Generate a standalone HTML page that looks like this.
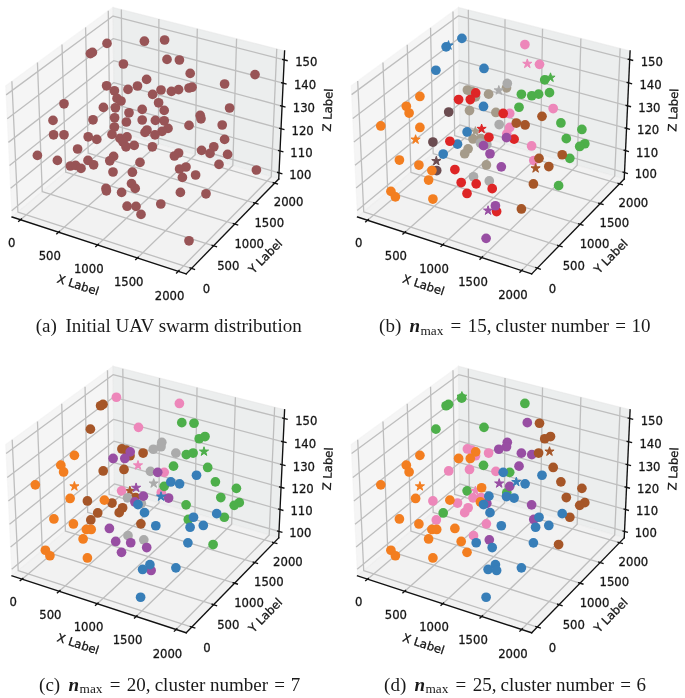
<!DOCTYPE html>
<html lang="en"><head><meta charset="utf-8"><title>UAV swarm clustering</title>
<style>html,body{margin:0;padding:0;background:#fff}svg{display:block}text{font-family:'DejaVu Sans', sans-serif;font-size:11.65px;fill:#141414;stroke:#141414;stroke-width:.28px}.cap{font-family:"Liberation Serif",serif;font-size:19px;fill:#1a1a1a;stroke:none}</style></head><body>
<svg width="685" height="698" viewBox="0 0 685 698">
<rect width="685" height="698" fill="#fff"/>
<g id="panel-a">
<path d="M12.01 217.01 L114.41 131.17 L112.99 7.38 L5.69 85.69Z" fill="#F5F5F5" stroke="#f2f2f2" stroke-opacity="0.5" stroke-width="1.17"/>
<path d="M114.41 131.17 L278.73 178.94 L284.6 50.88 L112.99 7.38Z" fill="#ECEEEE" stroke="#e6e6e6" stroke-opacity="0.5" stroke-width="1.17"/>
<path d="M12.01 217.01 L186.2 273.9 L278.73 178.94 L114.41 131.17Z" fill="#F2F2F2" stroke="#ececec" stroke-opacity="0.5" stroke-width="1.17"/>
<path d="M20.48 219.78 L122.44 133.51 L121.36 9.5" fill="none" stroke="#bebebe" stroke-width="1.3" stroke-linejoin="round"/>
<path d="M58.53 232.2 L158.44 143.97 L158.89 19.02" fill="none" stroke="#bebebe" stroke-width="1.3" stroke-linejoin="round"/>
<path d="M97.48 244.93 L195.22 154.66 L197.29 28.75" fill="none" stroke="#bebebe" stroke-width="1.3" stroke-linejoin="round"/>
<path d="M137.37 257.95 L232.82 165.59 L236.57 38.71" fill="none" stroke="#bebebe" stroke-width="1.3" stroke-linejoin="round"/>
<path d="M178.24 271.3 L271.25 176.76 L276.77 48.9" fill="none" stroke="#bebebe" stroke-width="1.3" stroke-linejoin="round"/>
<path d="M11.88 81.17 L17.9 212.08 L191.54 268.42" fill="none" stroke="#bebebe" stroke-width="1.3" stroke-linejoin="round"/>
<path d="M37.45 62.51 L42.24 191.67 L213.6 245.78" fill="none" stroke="#bebebe" stroke-width="1.3" stroke-linejoin="round"/>
<path d="M62 44.59 L65.66 172.04 L234.78 224.05" fill="none" stroke="#bebebe" stroke-width="1.3" stroke-linejoin="round"/>
<path d="M85.59 27.38 L88.19 153.16 L255.11 203.17" fill="none" stroke="#bebebe" stroke-width="1.3" stroke-linejoin="round"/>
<path d="M108.27 10.83 L109.89 134.96 L274.67 183.11" fill="none" stroke="#bebebe" stroke-width="1.3" stroke-linejoin="round"/>
<path d="M279.01 172.86 L114.34 125.29 L11.71 210.79" fill="none" stroke="#bebebe" stroke-width="1.3" stroke-linejoin="round"/>
<path d="M280.01 150.95 L114.1 104.07 L10.63 188.35" fill="none" stroke="#bebebe" stroke-width="1.3" stroke-linejoin="round"/>
<path d="M281.03 128.7 L113.85 82.55 L9.53 165.54" fill="none" stroke="#bebebe" stroke-width="1.3" stroke-linejoin="round"/>
<path d="M282.07 106.1 L113.6 60.7 L8.41 142.37" fill="none" stroke="#bebebe" stroke-width="1.3" stroke-linejoin="round"/>
<path d="M283.12 83.15 L113.35 38.53 L7.28 118.82" fill="none" stroke="#bebebe" stroke-width="1.3" stroke-linejoin="round"/>
<path d="M284.19 59.84 L113.09 16.02 L6.13 94.89" fill="none" stroke="#bebebe" stroke-width="1.3" stroke-linejoin="round"/>
<path d="M12.01 217.01 L186.2 273.9" fill="none" stroke="#111" stroke-width="1.35" stroke-linecap="square"/>
<path d="M21.37 219.03 L18.7 221.29" fill="none" stroke="#111" stroke-width="1.35" stroke-linecap="square"/>
<text x="11.71" y="246.93" text-anchor="middle">0</text>
<path d="M59.4 231.43 L56.78 233.75" fill="none" stroke="#111" stroke-width="1.35" stroke-linecap="square"/>
<text x="49.79" y="259.61" text-anchor="middle">500</text>
<path d="M98.33 244.14 L95.77 246.5" fill="none" stroke="#111" stroke-width="1.35" stroke-linecap="square"/>
<text x="88.78" y="272.61" text-anchor="middle">1000</text>
<path d="M138.2 257.15 L135.7 259.57" fill="none" stroke="#111" stroke-width="1.35" stroke-linecap="square"/>
<text x="128.72" y="285.91" text-anchor="middle">1500</text>
<path d="M179.05 270.47 L176.61 272.96" fill="none" stroke="#111" stroke-width="1.35" stroke-linecap="square"/>
<text x="169.64" y="299.55" text-anchor="middle">2000</text>
<text x="76.82" y="288.86" text-anchor="middle" transform="rotate(-341.91 76.82 288.86)">X Label</text>
<path d="M278.73 178.94 L186.2 273.9" fill="none" stroke="#111" stroke-width="1.35" stroke-linecap="square"/>
<path d="M190.08 267.94 L194.47 269.37" fill="none" stroke="#111" stroke-width="1.35" stroke-linecap="square"/>
<text x="206.56" y="292.93" text-anchor="middle">0</text>
<path d="M212.16 245.32 L216.49 246.69" fill="none" stroke="#111" stroke-width="1.35" stroke-linecap="square"/>
<text x="228.33" y="269.95" text-anchor="middle">500</text>
<path d="M233.35 223.61 L237.62 224.92" fill="none" stroke="#111" stroke-width="1.35" stroke-linecap="square"/>
<text x="249.22" y="247.9" text-anchor="middle">1000</text>
<path d="M253.71 202.75 L257.92 204.02" fill="none" stroke="#111" stroke-width="1.35" stroke-linecap="square"/>
<text x="269.28" y="226.72" text-anchor="middle">1500</text>
<path d="M273.28 182.71 L277.44 183.92" fill="none" stroke="#111" stroke-width="1.35" stroke-linecap="square"/>
<text x="288.57" y="206.36" text-anchor="middle">2000</text>
<text x="268.27" y="259.18" text-anchor="middle" transform="rotate(-45.74 268.27 259.18)">Y Label</text>
<path d="M278.73 178.94 L284.6 50.88" fill="none" stroke="#111" stroke-width="1.35" stroke-linecap="square"/>
<path d="M277.63 172.46 L281.78 173.66" fill="none" stroke="#111" stroke-width="1.35" stroke-linecap="square"/>
<text x="300.32" y="178.69" text-anchor="middle">100</text>
<path d="M278.62 150.55 L282.8 151.74" fill="none" stroke="#111" stroke-width="1.35" stroke-linecap="square"/>
<text x="301.48" y="156.82" text-anchor="middle">110</text>
<path d="M279.63 128.31 L283.85 129.47" fill="none" stroke="#111" stroke-width="1.35" stroke-linecap="square"/>
<text x="302.66" y="134.62" text-anchor="middle">120</text>
<path d="M280.65 105.72 L284.9 106.86" fill="none" stroke="#111" stroke-width="1.35" stroke-linecap="square"/>
<text x="303.86" y="112.07" text-anchor="middle">130</text>
<path d="M281.69 82.77 L285.98 83.9" fill="none" stroke="#111" stroke-width="1.35" stroke-linecap="square"/>
<text x="305.08" y="89.16" text-anchor="middle">140</text>
<path d="M282.75 59.47 L287.07 60.57" fill="none" stroke="#111" stroke-width="1.35" stroke-linecap="square"/>
<text x="306.32" y="65.9" text-anchor="middle">150</text>
<text x="331.86" y="110.16" text-anchor="middle" transform="rotate(-87.38 331.86 110.16)">Z Label</text>
<g fill="#985456">
<circle cx="107" cy="43.4" r="4.85"/>
<circle cx="92.4" cy="52.4" r="4.85"/>
<circle cx="90.4" cy="53.6" r="4.85"/>
<circle cx="123.4" cy="64" r="4.85"/>
<circle cx="106.6" cy="85.8" r="4.85"/>
<circle cx="114.4" cy="90.8" r="4.85"/>
<circle cx="128" cy="89.4" r="4.85"/>
<circle cx="137.5" cy="86" r="4.85"/>
<circle cx="117" cy="98.4" r="4.85"/>
<circle cx="121" cy="101" r="4.85"/>
<circle cx="64" cy="103.8" r="4.85"/>
<circle cx="103.4" cy="107.4" r="4.85"/>
<circle cx="115.4" cy="107.8" r="4.85"/>
<circle cx="129" cy="112.8" r="4.85"/>
<circle cx="53" cy="120.4" r="4.85"/>
<circle cx="93" cy="119.8" r="4.85"/>
<circle cx="114.6" cy="117.8" r="4.85"/>
<circle cx="126.4" cy="122" r="4.85"/>
<circle cx="114.4" cy="127" r="4.85"/>
<circle cx="144.4" cy="41.2" r="4.85"/>
<circle cx="164.6" cy="40" r="4.85"/>
<circle cx="167" cy="59.4" r="4.85"/>
<circle cx="179.4" cy="60" r="4.85"/>
<circle cx="190.2" cy="73.4" r="4.85"/>
<circle cx="146.6" cy="79.4" r="4.85"/>
<circle cx="255" cy="74.6" r="4.85"/>
<circle cx="224.6" cy="84" r="4.85"/>
<circle cx="161" cy="90" r="4.85"/>
<circle cx="171.4" cy="91.4" r="4.85"/>
<circle cx="178.6" cy="89.6" r="4.85"/>
<circle cx="189" cy="88" r="4.85"/>
<circle cx="192" cy="87.2" r="4.85"/>
<circle cx="152.6" cy="94.4" r="4.85"/>
<circle cx="158.6" cy="102.8" r="4.85"/>
<circle cx="142.2" cy="109.4" r="4.85"/>
<circle cx="164.2" cy="110.4" r="4.85"/>
<circle cx="229.6" cy="108" r="4.85"/>
<circle cx="200.2" cy="115.4" r="4.85"/>
<circle cx="201" cy="118.8" r="4.85"/>
<circle cx="142.2" cy="120" r="4.85"/>
<circle cx="155.4" cy="120.4" r="4.85"/>
<circle cx="164.2" cy="120.8" r="4.85"/>
<circle cx="189" cy="125.4" r="4.85"/>
<circle cx="222.2" cy="125" r="4.85"/>
<circle cx="147" cy="130" r="4.85"/>
<circle cx="168" cy="128.4" r="4.85"/>
<circle cx="162" cy="131.4" r="4.85"/>
<circle cx="155" cy="134.8" r="4.85"/>
<circle cx="145" cy="132.4" r="4.85"/>
<circle cx="53.6" cy="134.8" r="4.85"/>
<circle cx="64" cy="134.8" r="4.85"/>
<circle cx="88.2" cy="136.8" r="4.85"/>
<circle cx="96.8" cy="139.4" r="4.85"/>
<circle cx="112" cy="134.4" r="4.85"/>
<circle cx="120" cy="138.4" r="4.85"/>
<circle cx="127" cy="136.9" r="4.85"/>
<circle cx="123" cy="141.9" r="4.85"/>
<circle cx="126" cy="146.8" r="4.85"/>
<circle cx="134.2" cy="145.4" r="4.85"/>
<circle cx="77.6" cy="149" r="4.85"/>
<circle cx="37.4" cy="155.4" r="4.85"/>
<circle cx="57.4" cy="160.4" r="4.85"/>
<circle cx="113.6" cy="156.4" r="4.85"/>
<circle cx="109.8" cy="160.8" r="4.85"/>
<circle cx="88" cy="160.4" r="4.85"/>
<circle cx="93.6" cy="164.8" r="4.85"/>
<circle cx="70.4" cy="166" r="4.85"/>
<circle cx="75.6" cy="165.4" r="4.85"/>
<circle cx="81" cy="168.4" r="4.85"/>
<circle cx="113" cy="172" r="4.85"/>
<circle cx="132.4" cy="172.2" r="4.85"/>
<circle cx="140" cy="162.4" r="4.85"/>
<circle cx="106" cy="188.4" r="4.85"/>
<circle cx="106.4" cy="190.8" r="4.85"/>
<circle cx="121.6" cy="192.4" r="4.85"/>
<circle cx="131.5" cy="183.6" r="4.85"/>
<circle cx="135.2" cy="188.4" r="4.85"/>
<circle cx="127.1" cy="206.2" r="4.85"/>
<circle cx="136" cy="206.4" r="4.85"/>
<circle cx="141" cy="214.4" r="4.85"/>
<circle cx="152.4" cy="146.8" r="4.85"/>
<circle cx="224.6" cy="139.4" r="4.85"/>
<circle cx="213.8" cy="146.8" r="4.85"/>
<circle cx="201.6" cy="150.4" r="4.85"/>
<circle cx="210" cy="153.4" r="4.85"/>
<circle cx="227.6" cy="154.4" r="4.85"/>
<circle cx="178.6" cy="153" r="4.85"/>
<circle cx="174.4" cy="156" r="4.85"/>
<circle cx="219" cy="164.4" r="4.85"/>
<circle cx="186" cy="167" r="4.85"/>
<circle cx="179.6" cy="169" r="4.85"/>
<circle cx="195.6" cy="175" r="4.85"/>
<circle cx="182.4" cy="177.4" r="4.85"/>
<circle cx="180.4" cy="192.4" r="4.85"/>
<circle cx="206" cy="193.8" r="4.85"/>
<circle cx="160.8" cy="204" r="4.85"/>
<circle cx="189" cy="240.8" r="4.85"/>
<circle cx="256.4" cy="170" r="4.85"/>
</g></g>
<g id="panel-b">
<path d="M357.51 217.01 L459.91 131.17 L458.49 7.38 L351.19 85.69Z" fill="#F5F5F5" stroke="#f2f2f2" stroke-opacity="0.5" stroke-width="1.17"/>
<path d="M459.91 131.17 L624.23 178.94 L630.1 50.88 L458.49 7.38Z" fill="#ECEEEE" stroke="#e6e6e6" stroke-opacity="0.5" stroke-width="1.17"/>
<path d="M357.51 217.01 L531.7 273.9 L624.23 178.94 L459.91 131.17Z" fill="#F2F2F2" stroke="#ececec" stroke-opacity="0.5" stroke-width="1.17"/>
<path d="M367.48 220.27 L469.36 133.92 L468.33 9.88" fill="none" stroke="#bebebe" stroke-width="1.3" stroke-linejoin="round"/>
<path d="M404.66 232.41 L504.54 144.15 L505.02 19.18" fill="none" stroke="#bebebe" stroke-width="1.3" stroke-linejoin="round"/>
<path d="M442.72 244.84 L540.47 154.59 L542.53 28.69" fill="none" stroke="#bebebe" stroke-width="1.3" stroke-linejoin="round"/>
<path d="M481.67 257.56 L577.18 165.26 L580.89 38.41" fill="none" stroke="#bebebe" stroke-width="1.3" stroke-linejoin="round"/>
<path d="M521.55 270.59 L614.7 176.16 L620.12 48.35" fill="none" stroke="#bebebe" stroke-width="1.3" stroke-linejoin="round"/>
<path d="M357.7 80.93 L363.71 211.82 L537.32 268.13" fill="none" stroke="#bebebe" stroke-width="1.3" stroke-linejoin="round"/>
<path d="M382.97 62.5 L387.76 191.66 L559.12 245.76" fill="none" stroke="#bebebe" stroke-width="1.3" stroke-linejoin="round"/>
<path d="M407.23 44.79 L410.9 172.26 L580.04 224.29" fill="none" stroke="#bebebe" stroke-width="1.3" stroke-linejoin="round"/>
<path d="M430.56 27.77 L433.18 153.58 L600.16 203.65" fill="none" stroke="#bebebe" stroke-width="1.3" stroke-linejoin="round"/>
<path d="M452.99 11.39 L454.65 135.59 L619.5 183.8" fill="none" stroke="#bebebe" stroke-width="1.3" stroke-linejoin="round"/>
<path d="M624.53 172.54 L459.84 124.98 L357.19 210.46" fill="none" stroke="#bebebe" stroke-width="1.3" stroke-linejoin="round"/>
<path d="M625.53 150.64 L459.6 103.78 L356.11 188.03" fill="none" stroke="#bebebe" stroke-width="1.3" stroke-linejoin="round"/>
<path d="M626.55 128.41 L459.35 82.26 L355.02 165.24" fill="none" stroke="#bebebe" stroke-width="1.3" stroke-linejoin="round"/>
<path d="M627.58 105.82 L459.1 60.43 L353.9 142.09" fill="none" stroke="#bebebe" stroke-width="1.3" stroke-linejoin="round"/>
<path d="M628.63 82.89 L458.84 38.28 L352.77 118.56" fill="none" stroke="#bebebe" stroke-width="1.3" stroke-linejoin="round"/>
<path d="M629.7 59.59 L458.59 15.79 L351.62 94.64" fill="none" stroke="#bebebe" stroke-width="1.3" stroke-linejoin="round"/>
<path d="M357.51 217.01 L531.7 273.9" fill="none" stroke="#111" stroke-width="1.35" stroke-linecap="square"/>
<path d="M368.36 219.52 L365.7 221.77" fill="none" stroke="#111" stroke-width="1.35" stroke-linecap="square"/>
<text x="358.7" y="247.42" text-anchor="middle">0</text>
<path d="M405.53 231.64 L402.92 233.95" fill="none" stroke="#111" stroke-width="1.35" stroke-linecap="square"/>
<text x="395.93" y="259.83" text-anchor="middle">500</text>
<path d="M443.57 244.05 L441.01 246.42" fill="none" stroke="#111" stroke-width="1.35" stroke-linecap="square"/>
<text x="434.02" y="272.52" text-anchor="middle">1000</text>
<path d="M482.5 256.75 L479.99 259.18" fill="none" stroke="#111" stroke-width="1.35" stroke-linecap="square"/>
<text x="473.02" y="285.51" text-anchor="middle">1500</text>
<path d="M522.36 269.76 L519.91 272.24" fill="none" stroke="#111" stroke-width="1.35" stroke-linecap="square"/>
<text x="512.95" y="298.82" text-anchor="middle">2000</text>
<text x="422.32" y="288.86" text-anchor="middle" transform="rotate(-341.91 422.32 288.86)">X Label</text>
<path d="M624.23 178.94 L531.7 273.9" fill="none" stroke="#111" stroke-width="1.35" stroke-linecap="square"/>
<path d="M535.86 267.66 L540.25 269.08" fill="none" stroke="#111" stroke-width="1.35" stroke-linecap="square"/>
<text x="552.34" y="292.64" text-anchor="middle">0</text>
<path d="M557.67 245.31 L562 246.68" fill="none" stroke="#111" stroke-width="1.35" stroke-linecap="square"/>
<text x="573.84" y="269.94" text-anchor="middle">500</text>
<path d="M578.62 223.85 L582.89 225.16" fill="none" stroke="#111" stroke-width="1.35" stroke-linecap="square"/>
<text x="594.49" y="248.14" text-anchor="middle">1000</text>
<path d="M598.75 203.23 L602.97 204.49" fill="none" stroke="#111" stroke-width="1.35" stroke-linecap="square"/>
<text x="614.33" y="227.2" text-anchor="middle">1500</text>
<path d="M618.11 183.39 L622.27 184.61" fill="none" stroke="#111" stroke-width="1.35" stroke-linecap="square"/>
<text x="633.41" y="207.06" text-anchor="middle">2000</text>
<text x="613.77" y="259.18" text-anchor="middle" transform="rotate(-45.74 613.77 259.18)">Y Label</text>
<path d="M624.23 178.94 L630.1 50.88" fill="none" stroke="#111" stroke-width="1.35" stroke-linecap="square"/>
<path d="M623.14 172.14 L627.29 173.34" fill="none" stroke="#111" stroke-width="1.35" stroke-linecap="square"/>
<text x="645.84" y="178.37" text-anchor="middle">100</text>
<path d="M624.14 150.25 L628.32 151.43" fill="none" stroke="#111" stroke-width="1.35" stroke-linecap="square"/>
<text x="647" y="156.52" text-anchor="middle">110</text>
<path d="M625.14 128.02 L629.36 129.18" fill="none" stroke="#111" stroke-width="1.35" stroke-linecap="square"/>
<text x="648.18" y="134.32" text-anchor="middle">120</text>
<path d="M626.17 105.44 L630.42 106.59" fill="none" stroke="#111" stroke-width="1.35" stroke-linecap="square"/>
<text x="649.38" y="111.79" text-anchor="middle">130</text>
<path d="M627.2 82.52 L631.49 83.64" fill="none" stroke="#111" stroke-width="1.35" stroke-linecap="square"/>
<text x="650.59" y="88.9" text-anchor="middle">140</text>
<path d="M628.26 59.23 L632.58 60.33" fill="none" stroke="#111" stroke-width="1.35" stroke-linecap="square"/>
<text x="651.83" y="65.66" text-anchor="middle">150</text>
<text x="677.36" y="110.16" text-anchor="middle" transform="rotate(-87.38 677.36 110.16)">Z Label</text>
<circle cx="524.9" cy="44.55" r="4.85" fill="#ED87BA"/>
<circle cx="539.5" cy="64.35" r="4.85" fill="#ED87BA"/>
<circle cx="553.2" cy="108.55" r="4.85" fill="#ED87BA"/>
<circle cx="509.7" cy="113.45" r="4.85" fill="#ED87BA"/>
<circle cx="509.7" cy="127.45" r="4.85" fill="#ED87BA"/>
<circle cx="506.8" cy="133.85" r="4.85" fill="#ED87BA"/>
<circle cx="531.6" cy="145.95" r="4.85" fill="#ED87BA"/>
<circle cx="533.8" cy="160.55" r="4.85" fill="#ED87BA"/>
<circle cx="467.4" cy="90.05" r="4.85" fill="#A59B8A"/>
<circle cx="471.8" cy="91.25" r="4.85" fill="#A59B8A"/>
<circle cx="475.5" cy="96.85" r="4.85" fill="#A59B8A"/>
<circle cx="488.6" cy="94.15" r="4.85" fill="#A59B8A"/>
<circle cx="469.5" cy="110.55" r="4.85" fill="#A59B8A"/>
<circle cx="506.5" cy="87.85" r="4.85" fill="#A59B8A"/>
<circle cx="495.9" cy="112.45" r="4.85" fill="#A59B8A"/>
<circle cx="481" cy="138.65" r="4.85" fill="#A59B8A"/>
<circle cx="473" cy="138.95" r="4.85" fill="#A59B8A"/>
<circle cx="468.1" cy="148.85" r="4.85" fill="#A59B8A"/>
<circle cx="464.7" cy="153.75" r="4.85" fill="#A59B8A"/>
<circle cx="486.4" cy="164.95" r="4.85" fill="#A59B8A"/>
<polygon points="475.4,126.65 476.48,129.97 479.97,129.97 477.14,132.02 478.22,135.33 475.4,133.28 472.58,135.33 473.66,132.02 470.83,129.97 474.32,129.97" fill="#A59B8A" stroke="#A59B8A" stroke-width="1" stroke-linejoin="round"/>
<circle cx="461.9" cy="38.35" r="4.85" fill="#377EB8"/>
<circle cx="446.1" cy="46.85" r="4.85" fill="#377EB8"/>
<circle cx="435.9" cy="70.25" r="4.85" fill="#377EB8"/>
<circle cx="484" cy="68.45" r="4.85" fill="#377EB8"/>
<circle cx="483.5" cy="106.45" r="4.85" fill="#377EB8"/>
<circle cx="467.1" cy="131.95" r="4.85" fill="#377EB8"/>
<circle cx="457.5" cy="144.15" r="4.85" fill="#377EB8"/>
<circle cx="443.2" cy="154.05" r="4.85" fill="#377EB8"/>
<circle cx="544.7" cy="79.85" r="4.85" fill="#4DAF4A"/>
<circle cx="521.4" cy="94.25" r="4.85" fill="#4DAF4A"/>
<circle cx="531.8" cy="95.75" r="4.85" fill="#4DAF4A"/>
<circle cx="538.6" cy="94.15" r="4.85" fill="#4DAF4A"/>
<circle cx="549.5" cy="92.65" r="4.85" fill="#4DAF4A"/>
<circle cx="519" cy="107.25" r="4.85" fill="#4DAF4A"/>
<circle cx="560.9" cy="122.95" r="4.85" fill="#4DAF4A"/>
<circle cx="581.9" cy="129.45" r="4.85" fill="#4DAF4A"/>
<circle cx="566.3" cy="138.65" r="4.85" fill="#4DAF4A"/>
<circle cx="584.8" cy="143.75" r="4.85" fill="#4DAF4A"/>
<circle cx="579.7" cy="146.45" r="4.85" fill="#4DAF4A"/>
<circle cx="569.8" cy="158.35" r="4.85" fill="#4DAF4A"/>
<circle cx="558.6" cy="185.65" r="4.85" fill="#4DAF4A"/>
<circle cx="507.3" cy="83.45" r="4.85" fill="#ABABAB"/>
<circle cx="499.2" cy="124.55" r="4.85" fill="#ABABAB"/>
<circle cx="480.4" cy="143.05" r="4.85" fill="#ABABAB"/>
<circle cx="486.8" cy="144.45" r="4.85" fill="#ABABAB"/>
<circle cx="473.5" cy="176.75" r="4.85" fill="#ABABAB"/>
<circle cx="489.3" cy="180.95" r="4.85" fill="#ABABAB"/>
<circle cx="448.7" cy="112.05" r="4.85" fill="#6B4C50"/>
<circle cx="432.9" cy="142.05" r="4.85" fill="#6B4C50"/>
<circle cx="436.7" cy="170.55" r="4.85" fill="#6B4C50"/>
<circle cx="475.7" cy="92.95" r="4.85" fill="#DE2526"/>
<circle cx="458.6" cy="99.55" r="4.85" fill="#DE2526"/>
<circle cx="470.3" cy="99.55" r="4.85" fill="#DE2526"/>
<circle cx="503.2" cy="113.45" r="4.85" fill="#DE2526"/>
<circle cx="514.1" cy="139.15" r="4.85" fill="#DE2526"/>
<circle cx="488.9" cy="137.25" r="4.85" fill="#DE2526"/>
<circle cx="449.9" cy="141.25" r="4.85" fill="#DE2526"/>
<circle cx="454.9" cy="169.55" r="4.85" fill="#DE2526"/>
<circle cx="461.2" cy="182.55" r="4.85" fill="#DE2526"/>
<circle cx="467" cy="193.45" r="4.85" fill="#DE2526"/>
<circle cx="476.2" cy="183.85" r="4.85" fill="#DE2526"/>
<circle cx="492.2" cy="188.65" r="4.85" fill="#DE2526"/>
<circle cx="496.6" cy="211.55" r="4.85" fill="#DE2526"/>
<circle cx="542" cy="116.35" r="4.85" fill="#A65628"/>
<circle cx="516.3" cy="123.05" r="4.85" fill="#A65628"/>
<circle cx="525.1" cy="124.95" r="4.85" fill="#A65628"/>
<circle cx="539" cy="158.35" r="4.85" fill="#A65628"/>
<circle cx="548.8" cy="166.55" r="4.85" fill="#A65628"/>
<circle cx="533.4" cy="183.95" r="4.85" fill="#A65628"/>
<circle cx="562.2" cy="154.75" r="4.85" fill="#A65628"/>
<circle cx="521.4" cy="208.95" r="4.85" fill="#A65628"/>
<circle cx="419.9" cy="96.45" r="4.85" fill="#F37E20"/>
<circle cx="406.3" cy="106.25" r="4.85" fill="#F37E20"/>
<circle cx="409.1" cy="113.05" r="4.85" fill="#F37E20"/>
<circle cx="380.8" cy="125.95" r="4.85" fill="#F37E20"/>
<circle cx="419.9" cy="127.45" r="4.85" fill="#F37E20"/>
<circle cx="399.4" cy="160.05" r="4.85" fill="#F37E20"/>
<circle cx="418.9" cy="165.05" r="4.85" fill="#F37E20"/>
<circle cx="431.9" cy="170.55" r="4.85" fill="#F37E20"/>
<circle cx="428.6" cy="180.05" r="4.85" fill="#F37E20"/>
<circle cx="390.9" cy="191.35" r="4.85" fill="#F37E20"/>
<circle cx="395.4" cy="196.85" r="4.85" fill="#F37E20"/>
<circle cx="432.9" cy="199.05" r="4.85" fill="#F37E20"/>
<circle cx="506.5" cy="137.65" r="4.85" fill="#984EA3"/>
<circle cx="483.5" cy="145.65" r="4.85" fill="#984EA3"/>
<circle cx="490" cy="153.75" r="4.85" fill="#984EA3"/>
<circle cx="501.3" cy="166.85" r="4.85" fill="#984EA3"/>
<circle cx="495.4" cy="205.75" r="4.85" fill="#984EA3"/>
<circle cx="486.1" cy="238.35" r="4.85" fill="#984EA3"/>
<polygon points="448.5,40.65 449.58,43.97 453.07,43.97 450.24,46.02 451.32,49.33 448.5,47.28 445.68,49.33 446.76,46.02 443.93,43.97 447.42,43.97" fill="#377EB8" stroke="#377EB8" stroke-width="1" stroke-linejoin="round"/>
<polygon points="527.3,58.95 528.38,62.27 531.87,62.27 529.04,64.32 530.12,67.63 527.3,65.58 524.48,67.63 525.56,64.32 522.73,62.27 526.22,62.27" fill="#ED87BA" stroke="#ED87BA" stroke-width="1" stroke-linejoin="round"/>
<polygon points="550.5,72.85 551.58,76.17 555.07,76.17 552.24,78.22 553.32,81.53 550.5,79.48 547.68,81.53 548.76,78.22 545.93,76.17 549.42,76.17" fill="#4DAF4A" stroke="#4DAF4A" stroke-width="1" stroke-linejoin="round"/>
<polygon points="498.8,85.55 499.88,88.87 503.37,88.87 500.54,90.92 501.62,94.23 498.8,92.18 495.98,94.23 497.06,90.92 494.23,88.87 497.72,88.87" fill="#ABABAB" stroke="#ABABAB" stroke-width="1" stroke-linejoin="round"/>
<polygon points="481.6,124.05 482.68,127.37 486.17,127.37 483.34,129.42 484.42,132.73 481.6,130.68 478.78,132.73 479.86,129.42 477.03,127.37 480.52,127.37" fill="#DE2526" stroke="#DE2526" stroke-width="1" stroke-linejoin="round"/>
<polygon points="415.6,134.75 416.68,138.07 420.17,138.07 417.34,140.12 418.42,143.43 415.6,141.38 412.78,143.43 413.86,140.12 411.03,138.07 414.52,138.07" fill="#F37E20" stroke="#F37E20" stroke-width="1" stroke-linejoin="round"/>
<polygon points="436.3,156.25 437.38,159.57 440.87,159.57 438.04,161.62 439.12,164.93 436.3,162.88 433.48,164.93 434.56,161.62 431.73,159.57 435.22,159.57" fill="#6B4C50" stroke="#6B4C50" stroke-width="1" stroke-linejoin="round"/>
<polygon points="535.6,163.55 536.68,166.87 540.17,166.87 537.34,168.92 538.42,172.23 535.6,170.18 532.78,172.23 533.86,168.92 531.03,166.87 534.52,166.87" fill="#A65628" stroke="#A65628" stroke-width="1" stroke-linejoin="round"/>
<polygon points="488.1,205.75 489.18,209.07 492.67,209.07 489.84,211.12 490.92,214.43 488.1,212.38 485.28,214.43 486.36,211.12 483.53,209.07 487.02,209.07" fill="#984EA3" stroke="#984EA3" stroke-width="1" stroke-linejoin="round"/>
</g>
<g id="panel-c">
<path d="M12.01 575.91 L114.41 490.07 L112.99 366.28 L5.69 444.59Z" fill="#F5F5F5" stroke="#f2f2f2" stroke-opacity="0.5" stroke-width="1.17"/>
<path d="M114.41 490.07 L278.73 537.84 L284.6 409.78 L112.99 366.28Z" fill="#ECEEEE" stroke="#e6e6e6" stroke-opacity="0.5" stroke-width="1.17"/>
<path d="M12.01 575.91 L186.2 632.8 L278.73 537.84 L114.41 490.07Z" fill="#F2F2F2" stroke="#ececec" stroke-opacity="0.5" stroke-width="1.17"/>
<path d="M21.98 579.17 L123.86 492.82 L122.83 368.78" fill="none" stroke="#bebebe" stroke-width="1.3" stroke-linejoin="round"/>
<path d="M59.16 591.31 L159.04 503.05 L159.52 378.08" fill="none" stroke="#bebebe" stroke-width="1.3" stroke-linejoin="round"/>
<path d="M97.22 603.74 L194.97 513.49 L197.03 387.59" fill="none" stroke="#bebebe" stroke-width="1.3" stroke-linejoin="round"/>
<path d="M136.17 616.46 L231.68 524.16 L235.39 397.31" fill="none" stroke="#bebebe" stroke-width="1.3" stroke-linejoin="round"/>
<path d="M176.05 629.49 L269.2 535.06 L274.62 407.25" fill="none" stroke="#bebebe" stroke-width="1.3" stroke-linejoin="round"/>
<path d="M12.2 439.83 L18.21 570.72 L191.82 627.03" fill="none" stroke="#bebebe" stroke-width="1.3" stroke-linejoin="round"/>
<path d="M37.47 421.4 L42.26 550.56 L213.62 604.66" fill="none" stroke="#bebebe" stroke-width="1.3" stroke-linejoin="round"/>
<path d="M61.73 403.69 L65.4 531.16 L234.54 583.19" fill="none" stroke="#bebebe" stroke-width="1.3" stroke-linejoin="round"/>
<path d="M85.06 386.67 L87.68 512.48 L254.66 562.55" fill="none" stroke="#bebebe" stroke-width="1.3" stroke-linejoin="round"/>
<path d="M107.49 370.29 L109.15 494.49 L274 542.7" fill="none" stroke="#bebebe" stroke-width="1.3" stroke-linejoin="round"/>
<path d="M279.03 531.44 L114.34 483.88 L11.69 569.36" fill="none" stroke="#bebebe" stroke-width="1.3" stroke-linejoin="round"/>
<path d="M280.03 509.54 L114.1 462.68 L10.61 546.93" fill="none" stroke="#bebebe" stroke-width="1.3" stroke-linejoin="round"/>
<path d="M281.05 487.31 L113.85 441.16 L9.52 524.14" fill="none" stroke="#bebebe" stroke-width="1.3" stroke-linejoin="round"/>
<path d="M282.08 464.72 L113.6 419.33 L8.4 500.99" fill="none" stroke="#bebebe" stroke-width="1.3" stroke-linejoin="round"/>
<path d="M283.13 441.79 L113.34 397.18 L7.27 477.46" fill="none" stroke="#bebebe" stroke-width="1.3" stroke-linejoin="round"/>
<path d="M284.2 418.49 L113.09 374.69 L6.12 453.54" fill="none" stroke="#bebebe" stroke-width="1.3" stroke-linejoin="round"/>
<path d="M12.01 575.91 L186.2 632.8" fill="none" stroke="#111" stroke-width="1.35" stroke-linecap="square"/>
<path d="M22.86 578.42 L20.2 580.67" fill="none" stroke="#111" stroke-width="1.35" stroke-linecap="square"/>
<text x="13.2" y="606.32" text-anchor="middle">0</text>
<path d="M60.03 590.54 L57.42 592.85" fill="none" stroke="#111" stroke-width="1.35" stroke-linecap="square"/>
<text x="50.43" y="618.73" text-anchor="middle">500</text>
<path d="M98.07 602.95 L95.51 605.32" fill="none" stroke="#111" stroke-width="1.35" stroke-linecap="square"/>
<text x="88.52" y="631.42" text-anchor="middle">1000</text>
<path d="M137 615.65 L134.49 618.08" fill="none" stroke="#111" stroke-width="1.35" stroke-linecap="square"/>
<text x="127.52" y="644.41" text-anchor="middle">1500</text>
<path d="M176.86 628.66 L174.41 631.14" fill="none" stroke="#111" stroke-width="1.35" stroke-linecap="square"/>
<text x="167.45" y="657.72" text-anchor="middle">2000</text>
<text x="76.82" y="647.76" text-anchor="middle" transform="rotate(-341.91 76.82 647.76)">X Label</text>
<path d="M278.73 537.84 L186.2 632.8" fill="none" stroke="#111" stroke-width="1.35" stroke-linecap="square"/>
<path d="M190.36 626.56 L194.75 627.98" fill="none" stroke="#111" stroke-width="1.35" stroke-linecap="square"/>
<text x="206.84" y="651.54" text-anchor="middle">0</text>
<path d="M212.17 604.21 L216.5 605.58" fill="none" stroke="#111" stroke-width="1.35" stroke-linecap="square"/>
<text x="228.34" y="628.84" text-anchor="middle">500</text>
<path d="M233.12 582.75 L237.39 584.06" fill="none" stroke="#111" stroke-width="1.35" stroke-linecap="square"/>
<text x="248.99" y="607.04" text-anchor="middle">1000</text>
<path d="M253.25 562.13 L257.47 563.39" fill="none" stroke="#111" stroke-width="1.35" stroke-linecap="square"/>
<text x="268.83" y="586.1" text-anchor="middle">1500</text>
<path d="M272.61 542.29 L276.77 543.51" fill="none" stroke="#111" stroke-width="1.35" stroke-linecap="square"/>
<text x="287.91" y="565.96" text-anchor="middle">2000</text>
<text x="268.27" y="618.08" text-anchor="middle" transform="rotate(-45.74 268.27 618.08)">Y Label</text>
<path d="M278.73 537.84 L284.6 409.78" fill="none" stroke="#111" stroke-width="1.35" stroke-linecap="square"/>
<path d="M277.64 531.04 L281.79 532.24" fill="none" stroke="#111" stroke-width="1.35" stroke-linecap="square"/>
<text x="300.34" y="537.27" text-anchor="middle">100</text>
<path d="M278.64 509.15 L282.82 510.33" fill="none" stroke="#111" stroke-width="1.35" stroke-linecap="square"/>
<text x="301.5" y="515.42" text-anchor="middle">110</text>
<path d="M279.64 486.92 L283.86 488.08" fill="none" stroke="#111" stroke-width="1.35" stroke-linecap="square"/>
<text x="302.68" y="493.22" text-anchor="middle">120</text>
<path d="M280.67 464.34 L284.92 465.49" fill="none" stroke="#111" stroke-width="1.35" stroke-linecap="square"/>
<text x="303.88" y="470.69" text-anchor="middle">130</text>
<path d="M281.7 441.42 L285.99 442.54" fill="none" stroke="#111" stroke-width="1.35" stroke-linecap="square"/>
<text x="305.09" y="447.8" text-anchor="middle">140</text>
<path d="M282.76 418.13 L287.08 419.23" fill="none" stroke="#111" stroke-width="1.35" stroke-linecap="square"/>
<text x="306.33" y="424.56" text-anchor="middle">150</text>
<text x="331.86" y="469.06" text-anchor="middle" transform="rotate(-87.38 331.86 469.06)">Z Label</text>
<circle cx="103" cy="404.35" r="4.85" fill="#A65628"/>
<circle cx="100.6" cy="405.75" r="4.85" fill="#A65628"/>
<circle cx="90.4" cy="429.15" r="4.85" fill="#A65628"/>
<circle cx="121.9" cy="448.95" r="4.85" fill="#A65628"/>
<circle cx="126.3" cy="450.15" r="4.85" fill="#A65628"/>
<circle cx="130" cy="455.75" r="4.85" fill="#A65628"/>
<circle cx="143.1" cy="453.05" r="4.85" fill="#A65628"/>
<circle cx="103.2" cy="470.95" r="4.85" fill="#A65628"/>
<circle cx="124" cy="469.45" r="4.85" fill="#A65628"/>
<circle cx="135.5" cy="497.55" r="4.85" fill="#A65628"/>
<circle cx="87.4" cy="500.95" r="4.85" fill="#A65628"/>
<circle cx="112" cy="503.05" r="4.85" fill="#A65628"/>
<circle cx="122.6" cy="507.75" r="4.85" fill="#A65628"/>
<circle cx="119.2" cy="512.65" r="4.85" fill="#A65628"/>
<circle cx="97.7" cy="512.95" r="4.85" fill="#A65628"/>
<circle cx="90.8" cy="519.95" r="4.85" fill="#A65628"/>
<circle cx="140.9" cy="523.85" r="4.85" fill="#A65628"/>
<polygon points="129.9,486.15 130.98,489.47 134.47,489.47 131.64,491.52 132.72,494.83 129.9,492.78 127.08,494.83 128.16,491.52 125.33,489.47 128.82,489.47" fill="#A65628" stroke="#A65628" stroke-width="1" stroke-linejoin="round"/>
<circle cx="116.4" cy="397.25" r="4.85" fill="#ED87BA"/>
<circle cx="138.5" cy="427.35" r="4.85" fill="#ED87BA"/>
<circle cx="179.4" cy="403.45" r="4.85" fill="#ED87BA"/>
<circle cx="164.2" cy="472.35" r="4.85" fill="#ED87BA"/>
<circle cx="121.6" cy="490.85" r="4.85" fill="#ED87BA"/>
<circle cx="161.3" cy="492.75" r="4.85" fill="#ED87BA"/>
<circle cx="161.8" cy="442.35" r="4.85" fill="#ABABAB"/>
<circle cx="161" cy="446.75" r="4.85" fill="#ABABAB"/>
<circle cx="153.3" cy="449.25" r="4.85" fill="#ABABAB"/>
<circle cx="175.9" cy="453.15" r="4.85" fill="#ABABAB"/>
<circle cx="150.4" cy="471.35" r="4.85" fill="#ABABAB"/>
<circle cx="127.5" cy="497.85" r="4.85" fill="#ABABAB"/>
<circle cx="141.3" cy="503.35" r="4.85" fill="#ABABAB"/>
<circle cx="128" cy="535.65" r="4.85" fill="#ABABAB"/>
<circle cx="143.8" cy="539.85" r="4.85" fill="#ABABAB"/>
<circle cx="181.8" cy="422.65" r="4.85" fill="#4DAF4A"/>
<circle cx="194" cy="423.25" r="4.85" fill="#4DAF4A"/>
<circle cx="199.2" cy="438.75" r="4.85" fill="#4DAF4A"/>
<circle cx="205" cy="436.55" r="4.85" fill="#4DAF4A"/>
<circle cx="186.3" cy="454.65" r="4.85" fill="#4DAF4A"/>
<circle cx="193.1" cy="453.05" r="4.85" fill="#4DAF4A"/>
<circle cx="173.5" cy="466.15" r="4.85" fill="#4DAF4A"/>
<circle cx="207.7" cy="467.45" r="4.85" fill="#4DAF4A"/>
<circle cx="215.4" cy="481.85" r="4.85" fill="#4DAF4A"/>
<circle cx="164.2" cy="486.35" r="4.85" fill="#4DAF4A"/>
<circle cx="186.1" cy="504.85" r="4.85" fill="#4DAF4A"/>
<circle cx="188.3" cy="519.45" r="4.85" fill="#4DAF4A"/>
<circle cx="236.4" cy="488.35" r="4.85" fill="#4DAF4A"/>
<circle cx="220.8" cy="497.55" r="4.85" fill="#4DAF4A"/>
<circle cx="239.3" cy="502.65" r="4.85" fill="#4DAF4A"/>
<circle cx="234.2" cy="505.35" r="4.85" fill="#4DAF4A"/>
<circle cx="224.3" cy="517.25" r="4.85" fill="#4DAF4A"/>
<circle cx="213.1" cy="544.55" r="4.85" fill="#4DAF4A"/>
<circle cx="74.4" cy="455.35" r="4.85" fill="#F37E20"/>
<circle cx="60.8" cy="465.15" r="4.85" fill="#F37E20"/>
<circle cx="63.6" cy="471.95" r="4.85" fill="#F37E20"/>
<circle cx="35.3" cy="484.85" r="4.85" fill="#F37E20"/>
<circle cx="70.1" cy="498.45" r="4.85" fill="#F37E20"/>
<circle cx="104.4" cy="500.15" r="4.85" fill="#F37E20"/>
<circle cx="53.9" cy="518.95" r="4.85" fill="#F37E20"/>
<circle cx="73.4" cy="523.95" r="4.85" fill="#F37E20"/>
<circle cx="86.4" cy="529.45" r="4.85" fill="#F37E20"/>
<circle cx="91.2" cy="529.45" r="4.85" fill="#F37E20"/>
<circle cx="83.1" cy="538.95" r="4.85" fill="#F37E20"/>
<circle cx="45.4" cy="550.25" r="4.85" fill="#F37E20"/>
<circle cx="49.9" cy="555.75" r="4.85" fill="#F37E20"/>
<circle cx="87.4" cy="557.95" r="4.85" fill="#F37E20"/>
<circle cx="130.2" cy="451.85" r="4.85" fill="#984EA3"/>
<circle cx="113.1" cy="458.45" r="4.85" fill="#984EA3"/>
<circle cx="124.8" cy="458.45" r="4.85" fill="#984EA3"/>
<circle cx="157.7" cy="472.35" r="4.85" fill="#984EA3"/>
<circle cx="168.6" cy="498.05" r="4.85" fill="#984EA3"/>
<circle cx="143.4" cy="496.15" r="4.85" fill="#984EA3"/>
<circle cx="134.9" cy="501.95" r="4.85" fill="#984EA3"/>
<circle cx="109.4" cy="528.45" r="4.85" fill="#984EA3"/>
<circle cx="115.7" cy="541.45" r="4.85" fill="#984EA3"/>
<circle cx="121.5" cy="552.35" r="4.85" fill="#984EA3"/>
<circle cx="130.7" cy="542.75" r="4.85" fill="#984EA3"/>
<circle cx="146.7" cy="547.55" r="4.85" fill="#984EA3"/>
<circle cx="151.1" cy="570.45" r="4.85" fill="#984EA3"/>
<circle cx="196.5" cy="475.25" r="4.85" fill="#377EB8"/>
<circle cx="170.8" cy="481.95" r="4.85" fill="#377EB8"/>
<circle cx="179.6" cy="483.85" r="4.85" fill="#377EB8"/>
<circle cx="138" cy="504.55" r="4.85" fill="#377EB8"/>
<circle cx="144.5" cy="512.65" r="4.85" fill="#377EB8"/>
<circle cx="193.5" cy="517.25" r="4.85" fill="#377EB8"/>
<circle cx="190.1" cy="527.25" r="4.85" fill="#377EB8"/>
<circle cx="203.3" cy="525.45" r="4.85" fill="#377EB8"/>
<circle cx="155.8" cy="525.75" r="4.85" fill="#377EB8"/>
<circle cx="187.9" cy="542.85" r="4.85" fill="#377EB8"/>
<circle cx="216.7" cy="513.65" r="4.85" fill="#377EB8"/>
<circle cx="149.9" cy="564.65" r="4.85" fill="#377EB8"/>
<circle cx="142.6" cy="569.45" r="4.85" fill="#377EB8"/>
<circle cx="175.9" cy="567.85" r="4.85" fill="#377EB8"/>
<circle cx="140.6" cy="597.25" r="4.85" fill="#377EB8"/>
<polygon points="74.4,481.55 75.48,484.87 78.97,484.87 76.14,486.92 77.22,490.23 74.4,488.18 71.58,490.23 72.66,486.92 69.83,484.87 73.32,484.87" fill="#F37E20" stroke="#F37E20" stroke-width="1" stroke-linejoin="round"/>
<polygon points="138,460.55 139.08,463.87 142.57,463.87 139.74,465.92 140.82,469.23 138,467.18 135.18,469.23 136.26,465.92 133.43,463.87 136.92,463.87" fill="#ED87BA" stroke="#ED87BA" stroke-width="1" stroke-linejoin="round"/>
<polygon points="204,446.75 205.08,450.07 208.57,450.07 205.74,452.12 206.82,455.43 204,453.38 201.18,455.43 202.26,452.12 199.43,450.07 202.92,450.07" fill="#4DAF4A" stroke="#4DAF4A" stroke-width="1" stroke-linejoin="round"/>
<polygon points="153.7,478.65 154.78,481.97 158.27,481.97 155.44,484.02 156.52,487.33 153.7,485.28 150.88,487.33 151.96,484.02 149.13,481.97 152.62,481.97" fill="#ABABAB" stroke="#ABABAB" stroke-width="1" stroke-linejoin="round"/>
<polygon points="136.1,482.95 137.18,486.27 140.67,486.27 137.84,488.32 138.92,491.63 136.1,489.58 133.28,491.63 134.36,488.32 131.53,486.27 135.02,486.27" fill="#984EA3" stroke="#984EA3" stroke-width="1" stroke-linejoin="round"/>
<polygon points="161,491.75 162.08,495.07 165.57,495.07 162.74,497.12 163.82,500.43 161,498.38 158.18,500.43 159.26,497.12 156.43,495.07 159.92,495.07" fill="#377EB8" stroke="#377EB8" stroke-width="1" stroke-linejoin="round"/>
</g>
<g id="panel-d">
<path d="M357.51 575.91 L459.91 490.07 L458.49 366.28 L351.19 444.59Z" fill="#F5F5F5" stroke="#f2f2f2" stroke-opacity="0.5" stroke-width="1.17"/>
<path d="M459.91 490.07 L624.23 537.84 L630.1 409.78 L458.49 366.28Z" fill="#ECEEEE" stroke="#e6e6e6" stroke-opacity="0.5" stroke-width="1.17"/>
<path d="M357.51 575.91 L531.7 632.8 L624.23 537.84 L459.91 490.07Z" fill="#F2F2F2" stroke="#ececec" stroke-opacity="0.5" stroke-width="1.17"/>
<path d="M367.48 579.17 L469.36 492.82 L468.33 368.78" fill="none" stroke="#bebebe" stroke-width="1.3" stroke-linejoin="round"/>
<path d="M404.66 591.31 L504.54 503.05 L505.02 378.08" fill="none" stroke="#bebebe" stroke-width="1.3" stroke-linejoin="round"/>
<path d="M442.72 603.74 L540.47 513.49 L542.53 387.59" fill="none" stroke="#bebebe" stroke-width="1.3" stroke-linejoin="round"/>
<path d="M481.67 616.46 L577.18 524.16 L580.89 397.31" fill="none" stroke="#bebebe" stroke-width="1.3" stroke-linejoin="round"/>
<path d="M521.55 629.49 L614.7 535.06 L620.12 407.25" fill="none" stroke="#bebebe" stroke-width="1.3" stroke-linejoin="round"/>
<path d="M357.7 439.83 L363.71 570.72 L537.32 627.03" fill="none" stroke="#bebebe" stroke-width="1.3" stroke-linejoin="round"/>
<path d="M382.97 421.4 L387.76 550.56 L559.12 604.66" fill="none" stroke="#bebebe" stroke-width="1.3" stroke-linejoin="round"/>
<path d="M407.23 403.69 L410.9 531.16 L580.04 583.19" fill="none" stroke="#bebebe" stroke-width="1.3" stroke-linejoin="round"/>
<path d="M430.56 386.67 L433.18 512.48 L600.16 562.55" fill="none" stroke="#bebebe" stroke-width="1.3" stroke-linejoin="round"/>
<path d="M452.99 370.29 L454.65 494.49 L619.5 542.7" fill="none" stroke="#bebebe" stroke-width="1.3" stroke-linejoin="round"/>
<path d="M624.53 531.44 L459.84 483.88 L357.19 569.36" fill="none" stroke="#bebebe" stroke-width="1.3" stroke-linejoin="round"/>
<path d="M625.53 509.54 L459.6 462.68 L356.11 546.93" fill="none" stroke="#bebebe" stroke-width="1.3" stroke-linejoin="round"/>
<path d="M626.55 487.31 L459.35 441.16 L355.02 524.14" fill="none" stroke="#bebebe" stroke-width="1.3" stroke-linejoin="round"/>
<path d="M627.58 464.72 L459.1 419.33 L353.9 500.99" fill="none" stroke="#bebebe" stroke-width="1.3" stroke-linejoin="round"/>
<path d="M628.63 441.79 L458.84 397.18 L352.77 477.46" fill="none" stroke="#bebebe" stroke-width="1.3" stroke-linejoin="round"/>
<path d="M629.7 418.49 L458.59 374.69 L351.62 453.54" fill="none" stroke="#bebebe" stroke-width="1.3" stroke-linejoin="round"/>
<path d="M357.51 575.91 L531.7 632.8" fill="none" stroke="#111" stroke-width="1.35" stroke-linecap="square"/>
<path d="M368.36 578.42 L365.7 580.67" fill="none" stroke="#111" stroke-width="1.35" stroke-linecap="square"/>
<text x="358.7" y="606.32" text-anchor="middle">0</text>
<path d="M405.53 590.54 L402.92 592.85" fill="none" stroke="#111" stroke-width="1.35" stroke-linecap="square"/>
<text x="395.93" y="618.73" text-anchor="middle">500</text>
<path d="M443.57 602.95 L441.01 605.32" fill="none" stroke="#111" stroke-width="1.35" stroke-linecap="square"/>
<text x="434.02" y="631.42" text-anchor="middle">1000</text>
<path d="M482.5 615.65 L479.99 618.08" fill="none" stroke="#111" stroke-width="1.35" stroke-linecap="square"/>
<text x="473.02" y="644.41" text-anchor="middle">1500</text>
<path d="M522.36 628.66 L519.91 631.14" fill="none" stroke="#111" stroke-width="1.35" stroke-linecap="square"/>
<text x="512.95" y="657.72" text-anchor="middle">2000</text>
<text x="422.32" y="647.76" text-anchor="middle" transform="rotate(-341.91 422.32 647.76)">X Label</text>
<path d="M624.23 537.84 L531.7 632.8" fill="none" stroke="#111" stroke-width="1.35" stroke-linecap="square"/>
<path d="M535.86 626.56 L540.25 627.98" fill="none" stroke="#111" stroke-width="1.35" stroke-linecap="square"/>
<text x="552.34" y="651.54" text-anchor="middle">0</text>
<path d="M557.67 604.21 L562 605.58" fill="none" stroke="#111" stroke-width="1.35" stroke-linecap="square"/>
<text x="573.84" y="628.84" text-anchor="middle">500</text>
<path d="M578.62 582.75 L582.89 584.06" fill="none" stroke="#111" stroke-width="1.35" stroke-linecap="square"/>
<text x="594.49" y="607.04" text-anchor="middle">1000</text>
<path d="M598.75 562.13 L602.97 563.39" fill="none" stroke="#111" stroke-width="1.35" stroke-linecap="square"/>
<text x="614.33" y="586.1" text-anchor="middle">1500</text>
<path d="M618.11 542.29 L622.27 543.51" fill="none" stroke="#111" stroke-width="1.35" stroke-linecap="square"/>
<text x="633.41" y="565.96" text-anchor="middle">2000</text>
<text x="613.77" y="618.08" text-anchor="middle" transform="rotate(-45.74 613.77 618.08)">Y Label</text>
<path d="M624.23 537.84 L630.1 409.78" fill="none" stroke="#111" stroke-width="1.35" stroke-linecap="square"/>
<path d="M623.14 531.04 L627.29 532.24" fill="none" stroke="#111" stroke-width="1.35" stroke-linecap="square"/>
<text x="645.84" y="537.27" text-anchor="middle">100</text>
<path d="M624.14 509.15 L628.32 510.33" fill="none" stroke="#111" stroke-width="1.35" stroke-linecap="square"/>
<text x="647" y="515.42" text-anchor="middle">110</text>
<path d="M625.14 486.92 L629.36 488.08" fill="none" stroke="#111" stroke-width="1.35" stroke-linecap="square"/>
<text x="648.18" y="493.22" text-anchor="middle">120</text>
<path d="M626.17 464.34 L630.42 465.49" fill="none" stroke="#111" stroke-width="1.35" stroke-linecap="square"/>
<text x="649.38" y="470.69" text-anchor="middle">130</text>
<path d="M627.2 441.42 L631.49 442.54" fill="none" stroke="#111" stroke-width="1.35" stroke-linecap="square"/>
<text x="650.59" y="447.8" text-anchor="middle">140</text>
<path d="M628.26 418.13 L632.58 419.23" fill="none" stroke="#111" stroke-width="1.35" stroke-linecap="square"/>
<text x="651.83" y="424.56" text-anchor="middle">150</text>
<text x="677.36" y="469.06" text-anchor="middle" transform="rotate(-87.38 677.36 469.06)">Z Label</text>
<circle cx="461.7" cy="398.15" r="4.85" fill="#4DAF4A"/>
<circle cx="448.5" cy="404.35" r="4.85" fill="#4DAF4A"/>
<circle cx="446.1" cy="405.75" r="4.85" fill="#4DAF4A"/>
<circle cx="435.9" cy="429.15" r="4.85" fill="#4DAF4A"/>
<circle cx="484" cy="427.35" r="4.85" fill="#4DAF4A"/>
<circle cx="483.5" cy="465.35" r="4.85" fill="#4DAF4A"/>
<circle cx="524.9" cy="403.45" r="4.85" fill="#4DAF4A"/>
<circle cx="509.7" cy="472.35" r="4.85" fill="#4DAF4A"/>
<circle cx="467.1" cy="490.85" r="4.85" fill="#4DAF4A"/>
<circle cx="506.8" cy="492.75" r="4.85" fill="#4DAF4A"/>
<circle cx="443.2" cy="512.95" r="4.85" fill="#4DAF4A"/>
<circle cx="467.4" cy="448.95" r="4.85" fill="#ED87BA"/>
<circle cx="471.8" cy="450.15" r="4.85" fill="#ED87BA"/>
<circle cx="475.5" cy="455.75" r="4.85" fill="#ED87BA"/>
<circle cx="488.6" cy="453.05" r="4.85" fill="#ED87BA"/>
<circle cx="448.7" cy="470.95" r="4.85" fill="#ED87BA"/>
<circle cx="469.5" cy="469.45" r="4.85" fill="#ED87BA"/>
<circle cx="495.9" cy="471.35" r="4.85" fill="#ED87BA"/>
<circle cx="481" cy="497.55" r="4.85" fill="#ED87BA"/>
<circle cx="473" cy="497.85" r="4.85" fill="#ED87BA"/>
<circle cx="432.9" cy="500.95" r="4.85" fill="#ED87BA"/>
<circle cx="457.5" cy="503.05" r="4.85" fill="#ED87BA"/>
<circle cx="468.1" cy="507.75" r="4.85" fill="#ED87BA"/>
<circle cx="464.7" cy="512.65" r="4.85" fill="#ED87BA"/>
<circle cx="436.3" cy="519.95" r="4.85" fill="#ED87BA"/>
<circle cx="486.4" cy="523.85" r="4.85" fill="#ED87BA"/>
<circle cx="473.5" cy="535.65" r="4.85" fill="#ED87BA"/>
<polygon points="475.4,486.15 476.48,489.47 479.97,489.47 477.14,491.52 478.22,494.83 475.4,492.78 472.58,494.83 473.66,491.52 470.83,489.47 474.32,489.47" fill="#ED87BA" stroke="#ED87BA" stroke-width="1" stroke-linejoin="round"/>
<circle cx="527.3" cy="422.65" r="4.85" fill="#984EA3"/>
<circle cx="507.3" cy="442.35" r="4.85" fill="#984EA3"/>
<circle cx="506.5" cy="446.75" r="4.85" fill="#984EA3"/>
<circle cx="498.8" cy="449.25" r="4.85" fill="#984EA3"/>
<circle cx="521.4" cy="453.15" r="4.85" fill="#984EA3"/>
<circle cx="531.8" cy="454.65" r="4.85" fill="#984EA3"/>
<circle cx="519" cy="466.15" r="4.85" fill="#984EA3"/>
<circle cx="509.7" cy="486.35" r="4.85" fill="#984EA3"/>
<circle cx="486.8" cy="503.35" r="4.85" fill="#984EA3"/>
<circle cx="531.6" cy="504.85" r="4.85" fill="#984EA3"/>
<circle cx="533.8" cy="519.45" r="4.85" fill="#984EA3"/>
<circle cx="489.3" cy="539.85" r="4.85" fill="#984EA3"/>
<circle cx="539.5" cy="423.25" r="4.85" fill="#A65628"/>
<circle cx="544.7" cy="438.75" r="4.85" fill="#A65628"/>
<circle cx="550.5" cy="436.55" r="4.85" fill="#A65628"/>
<circle cx="538.6" cy="453.05" r="4.85" fill="#A65628"/>
<circle cx="553.2" cy="467.45" r="4.85" fill="#A65628"/>
<circle cx="560.9" cy="481.85" r="4.85" fill="#A65628"/>
<circle cx="581.9" cy="488.35" r="4.85" fill="#A65628"/>
<circle cx="566.3" cy="497.55" r="4.85" fill="#A65628"/>
<circle cx="584.8" cy="502.65" r="4.85" fill="#A65628"/>
<circle cx="579.7" cy="505.35" r="4.85" fill="#A65628"/>
<circle cx="569.8" cy="517.25" r="4.85" fill="#A65628"/>
<circle cx="558.6" cy="544.55" r="4.85" fill="#A65628"/>
<circle cx="419.9" cy="455.35" r="4.85" fill="#F37E20"/>
<circle cx="406.3" cy="465.15" r="4.85" fill="#F37E20"/>
<circle cx="409.1" cy="471.95" r="4.85" fill="#F37E20"/>
<circle cx="380.8" cy="484.85" r="4.85" fill="#F37E20"/>
<circle cx="475.7" cy="451.85" r="4.85" fill="#F37E20"/>
<circle cx="458.6" cy="458.45" r="4.85" fill="#F37E20"/>
<circle cx="470.3" cy="458.45" r="4.85" fill="#F37E20"/>
<circle cx="481.6" cy="487.75" r="4.85" fill="#F37E20"/>
<circle cx="480.4" cy="501.95" r="4.85" fill="#F37E20"/>
<circle cx="415.6" cy="498.45" r="4.85" fill="#F37E20"/>
<circle cx="449.9" cy="500.15" r="4.85" fill="#F37E20"/>
<circle cx="399.4" cy="518.95" r="4.85" fill="#F37E20"/>
<circle cx="418.9" cy="523.95" r="4.85" fill="#F37E20"/>
<circle cx="431.9" cy="529.45" r="4.85" fill="#F37E20"/>
<circle cx="436.7" cy="529.45" r="4.85" fill="#F37E20"/>
<circle cx="454.9" cy="528.45" r="4.85" fill="#F37E20"/>
<circle cx="428.6" cy="538.95" r="4.85" fill="#F37E20"/>
<circle cx="461.2" cy="541.45" r="4.85" fill="#F37E20"/>
<circle cx="467" cy="552.35" r="4.85" fill="#F37E20"/>
<circle cx="390.9" cy="550.25" r="4.85" fill="#F37E20"/>
<circle cx="395.4" cy="555.75" r="4.85" fill="#F37E20"/>
<circle cx="432.9" cy="557.95" r="4.85" fill="#F37E20"/>
<circle cx="503.2" cy="472.35" r="4.85" fill="#377EB8"/>
<circle cx="542" cy="475.25" r="4.85" fill="#377EB8"/>
<circle cx="525.1" cy="483.85" r="4.85" fill="#377EB8"/>
<circle cx="506.5" cy="496.55" r="4.85" fill="#377EB8"/>
<circle cx="514.1" cy="498.05" r="4.85" fill="#377EB8"/>
<circle cx="488.9" cy="496.15" r="4.85" fill="#377EB8"/>
<circle cx="483.5" cy="504.55" r="4.85" fill="#377EB8"/>
<circle cx="490" cy="512.65" r="4.85" fill="#377EB8"/>
<circle cx="539" cy="517.25" r="4.85" fill="#377EB8"/>
<circle cx="535.6" cy="527.25" r="4.85" fill="#377EB8"/>
<circle cx="548.8" cy="525.45" r="4.85" fill="#377EB8"/>
<circle cx="501.3" cy="525.75" r="4.85" fill="#377EB8"/>
<circle cx="476.2" cy="542.75" r="4.85" fill="#377EB8"/>
<circle cx="492.2" cy="547.55" r="4.85" fill="#377EB8"/>
<circle cx="533.4" cy="542.85" r="4.85" fill="#377EB8"/>
<circle cx="562.2" cy="513.65" r="4.85" fill="#377EB8"/>
<circle cx="495.4" cy="564.65" r="4.85" fill="#377EB8"/>
<circle cx="488.1" cy="569.45" r="4.85" fill="#377EB8"/>
<circle cx="496.6" cy="570.45" r="4.85" fill="#377EB8"/>
<circle cx="521.4" cy="567.85" r="4.85" fill="#377EB8"/>
<circle cx="486.1" cy="597.25" r="4.85" fill="#377EB8"/>
<polygon points="419.9,481.55 420.98,484.87 424.47,484.87 421.64,486.92 422.72,490.23 419.9,488.18 417.08,490.23 418.16,486.92 415.33,484.87 418.82,484.87" fill="#F37E20" stroke="#F37E20" stroke-width="1" stroke-linejoin="round"/>
<polygon points="549.5,446.75 550.58,450.07 554.07,450.07 551.24,452.12 552.32,455.43 549.5,453.38 546.68,455.43 547.76,452.12 544.93,450.07 548.42,450.07" fill="#A65628" stroke="#A65628" stroke-width="1" stroke-linejoin="round"/>
<polygon points="516.3,477.15 517.38,480.47 520.87,480.47 518.04,482.52 519.12,485.83 516.3,483.78 513.48,485.83 514.56,482.52 511.73,480.47 515.22,480.47" fill="#377EB8" stroke="#377EB8" stroke-width="1" stroke-linejoin="round"/>
<polygon points="499.2,478.65 500.28,481.97 503.77,481.97 500.94,484.02 502.02,487.33 499.2,485.28 496.38,487.33 497.46,484.02 494.63,481.97 498.12,481.97" fill="#984EA3" stroke="#984EA3" stroke-width="1" stroke-linejoin="round"/>
<polygon points="461.9,391.6 463.06,395.16 466.8,395.16 463.77,397.36 464.93,400.92 461.9,398.72 458.87,400.92 460.03,397.36 457,395.16 460.74,395.16" fill="#4DAF4A" stroke="#4DAF4A" stroke-width="1" stroke-linejoin="round"/>
</g>
<text class="cap" x="35.8" y="332.3">(a) <tspan x="65.4">Initial UAV swarm distribution</tspan></text>
<text class="cap" y="332.3"><tspan x="379.1">(b) </tspan><tspan x="409.5" font-weight="bold" font-style="italic">n</tspan><tspan x="420.5" dy="2.6" font-size="13.3px">max </tspan><tspan x="450.55" dy="-2.6">= </tspan><tspan x="467.7">15, </tspan><tspan x="495.6">cluster number </tspan><tspan x="615.25">= </tspan><tspan x="631.6">10</tspan></text>
<text class="cap" y="690.8"><tspan x="39.1">(c) </tspan><tspan x="68.6" font-weight="bold" font-style="italic">n</tspan><tspan x="79.6" dy="2.6" font-size="13.3px">max </tspan><tspan x="109.65" dy="-2.6">= </tspan><tspan x="126.8">20, </tspan><tspan x="154.7">cluster number </tspan><tspan x="274.35">= </tspan><tspan x="290.7">7</tspan></text>
<text class="cap" y="690.8"><tspan x="384.1">(d) </tspan><tspan x="414.5" font-weight="bold" font-style="italic">n</tspan><tspan x="425.5" dy="2.6" font-size="13.3px">max </tspan><tspan x="455.55" dy="-2.6">= </tspan><tspan x="472.7">25, </tspan><tspan x="500.6">cluster number </tspan><tspan x="620.25">= </tspan><tspan x="636.6">6</tspan></text>
</svg></body></html>
